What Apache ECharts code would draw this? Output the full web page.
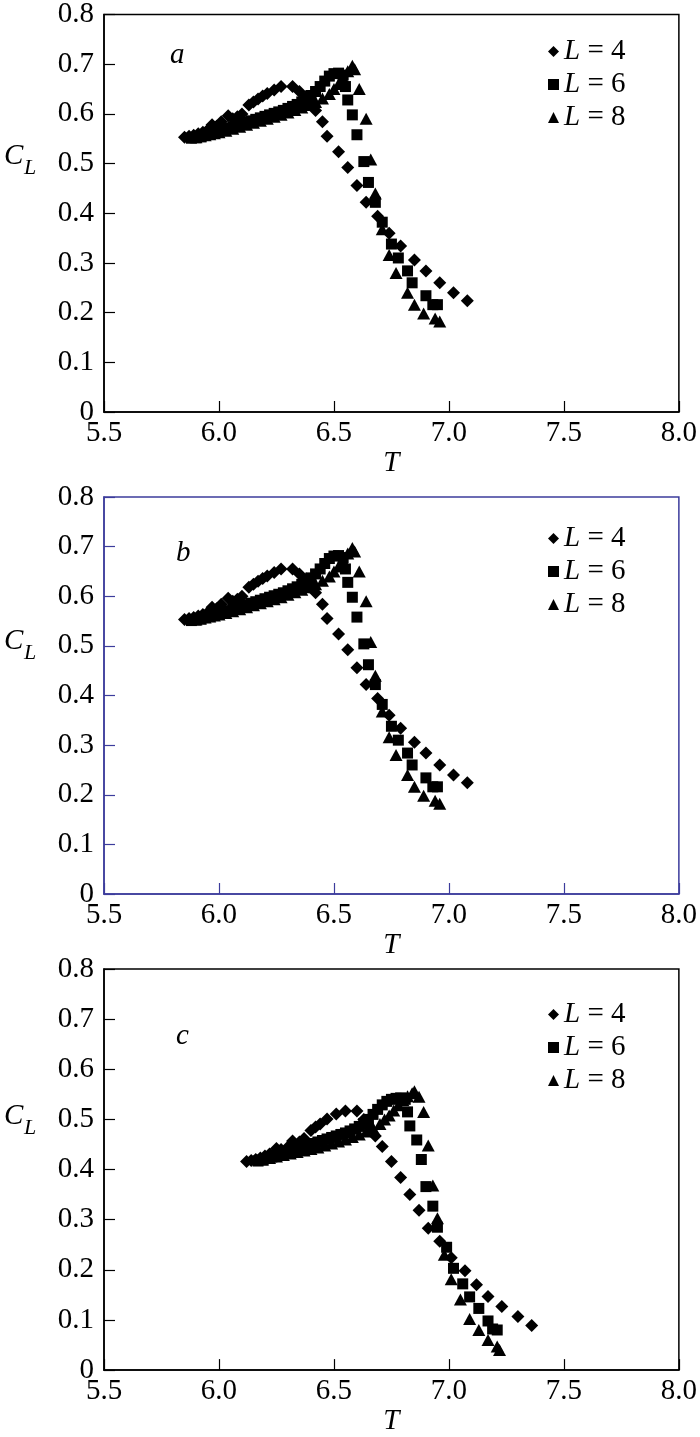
<!DOCTYPE html>
<html><head><meta charset="utf-8">
<script src="https://cdn.jsdelivr.net/npm/echarts@6/dist/echarts.min.js"></script>
<style>html,body{margin:0;padding:0;background:#fff}#c{width:700px;height:1437px}</style>
</head><body><div id="c"></div>
<script>
const seriesNames = ['L = 4', 'L = 6', 'L = 8'];
const panelLabels = ['a', 'b', 'c'];
const xTicks = [5.5, 6.0, 6.5, 7.0, 7.5, 8.0];
const yTicks = [0, 0.1, 0.2, 0.3, 0.4, 0.5, 0.6, 0.7, 0.8];

// Panels a and b (same data)
const abL4 = [[5.85,0.553],[5.87,0.555],[5.89,0.557],[5.91,0.560],[5.93,0.563],[5.95,0.567],[5.97,0.578],[5.99,0.575],[6.01,0.584],[6.04,0.596],[6.06,0.590],[6.08,0.594],[6.10,0.600],
  [6.13,0.618],[6.15,0.624],[6.17,0.630],[6.19,0.636],[6.21,0.641],[6.24,0.648],[6.27,0.655],[6.32,0.655],[6.35,0.645],[6.38,0.635],[6.40,0.620],[6.42,0.607],[6.45,0.584],[6.47,0.555],[6.52,0.524],[6.56,0.492],[6.60,0.456],[6.64,0.422],[6.69,0.394],[6.74,0.360],[6.79,0.334],[6.85,0.306],[6.90,0.284],[6.96,0.260],[7.02,0.240],[7.08,0.224]];
const abL6 = [[5.88,0.551],[5.90,0.552],[5.92,0.554],[5.94,0.557],[5.96,0.559],[5.98,0.562],[6.00,0.565],[6.02,0.568],[6.04,0.571],[6.06,0.574],[6.08,0.577],[6.10,0.580],[6.12,0.583],[6.14,0.586],[6.16,0.589],[6.18,0.592],[6.20,0.595],[6.22,0.598],[6.24,0.601],[6.26,0.604],[6.28,0.607],[6.30,0.611],[6.32,0.615],[6.34,0.619],[6.36,0.624],[6.38,0.630],[6.40,0.637],[6.42,0.645],[6.44,0.655],[6.46,0.666],[6.48,0.676],[6.50,0.681],[6.52,0.682],[6.54,0.678],[6.55,0.655],[6.56,0.628],[6.58,0.598],[6.60,0.558],[6.63,0.504],[6.65,0.462],[6.68,0.422],[6.71,0.382],[6.75,0.338],[6.78,0.310],[6.82,0.284],[6.84,0.260],[6.90,0.234],[6.93,0.216],[6.95,0.216]];
const abL8 = [[5.90,0.553],[5.92,0.555],[5.94,0.557],[5.96,0.559],[5.98,0.561],[6.00,0.563],[6.03,0.566],[6.06,0.570],[6.09,0.574],[6.12,0.578],[6.15,0.582],[6.18,0.586],[6.21,0.590],[6.24,0.594],[6.27,0.598],[6.30,0.603],[6.33,0.608],[6.36,0.613],[6.39,0.618],[6.42,0.624],[6.45,0.631],[6.48,0.640],[6.50,0.650],[6.52,0.660],[6.54,0.672],[6.56,0.686],[6.58,0.697],[6.59,0.690],[6.61,0.650],[6.64,0.590],[6.66,0.508],[6.68,0.440],[6.71,0.368],[6.74,0.316],[6.77,0.280],[6.82,0.240],[6.85,0.216],[6.89,0.198],[6.94,0.188],[6.96,0.182]];

// Panel c
const cL4 = [[6.12,0.416],[6.14,0.418],[6.16,0.420],[6.18,0.423],[6.20,0.427],[6.22,0.431],[6.25,0.442],[6.27,0.440],[6.30,0.445],[6.32,0.457],[6.35,0.455],[6.37,0.462],
  [6.40,0.478],[6.42,0.485],[6.44,0.491],[6.47,0.501],[6.51,0.511],[6.55,0.517],[6.60,0.517],[6.63,0.500],[6.65,0.485],[6.68,0.467],[6.71,0.446],[6.75,0.416],[6.79,0.384],[6.83,0.350],[6.87,0.319],[6.91,0.283],[6.96,0.257],[7.01,0.224],[7.07,0.198],[7.12,0.170],[7.17,0.147],[7.23,0.127],[7.30,0.107],[7.36,0.089]];
const cL6 = [[6.17,0.417],[6.19,0.419],[6.21,0.422],[6.23,0.425],[6.25,0.428],[6.27,0.431],[6.29,0.434],[6.31,0.437],[6.33,0.440],[6.35,0.443],[6.37,0.446],[6.39,0.449],[6.41,0.452],[6.43,0.455],[6.45,0.458],[6.47,0.461],[6.49,0.464],[6.51,0.467],[6.53,0.470],[6.55,0.473],[6.57,0.477],[6.59,0.481],[6.61,0.486],[6.63,0.492],[6.65,0.500],[6.67,0.510],[6.69,0.520],[6.71,0.529],[6.73,0.536],[6.75,0.540],[6.77,0.542],[6.79,0.543],[6.81,0.540],[6.82,0.515],[6.83,0.487],[6.86,0.459],[6.88,0.420],[6.90,0.366],[6.93,0.327],[6.95,0.285],[6.99,0.245],[7.02,0.203],[7.06,0.172],[7.09,0.146],[7.13,0.123],[7.17,0.098],[7.19,0.082],[7.21,0.080]];
const cL8 = [[6.19,0.420],[6.22,0.423],[6.25,0.426],[6.28,0.429],[6.31,0.432],[6.34,0.435],[6.37,0.438],[6.40,0.441],[6.43,0.444],[6.46,0.448],[6.49,0.452],[6.52,0.456],[6.55,0.460],[6.58,0.465],[6.61,0.470],[6.64,0.476],[6.67,0.483],[6.70,0.491],[6.72,0.500],[6.74,0.508],[6.76,0.518],[6.78,0.528],[6.80,0.538],[6.82,0.546],[6.84,0.552],[6.85,0.556],[6.87,0.545],[6.89,0.515],[6.91,0.448],[6.93,0.368],[6.95,0.303],[6.98,0.230],[7.01,0.181],[7.05,0.141],[7.09,0.102],[7.13,0.080],[7.17,0.060],[7.21,0.047],[7.22,0.040]];

const panelData = [[abL4, abL6, abL8], [abL4, abL6, abL8], [cL4, cL6, cL8]];

const FONT = 'Liberation Serif';
const frameColors = ['#000000', '#3c3c9c', '#000000'];
const grids = [
  {left: 104, top: 11, width: 575, height: 401},
  {left: 104, top: 497, width: 575, height: 397},
  {left: 104, top: 969, width: 575, height: 404}
];
const legendTops = [31, 518, 994];
const symbols = ['diamond', 'rect', 'triangle'];
const symSizes = [[13, 13], 11, [13, 12]];

const chart = echarts.init(document.getElementById('c'), null, {renderer: 'canvas'});
const option = {
  backgroundColor: '#fff',
  animation: false,
  grid: grids.map((g, i) => Object.assign({show: true, borderColor: frameColors[i], borderWidth: 1.5, backgroundColor: 'transparent'}, g)),
  xAxis: grids.map((g, i) => ({
    type: 'value', gridIndex: i, min: xTicks[0], max: xTicks[xTicks.length - 1], interval: 0.5,
    axisLine: {show: true, onZero: false, lineStyle: {color: frameColors[i], width: 1.5}},
    axisTick: {show: true, inside: true, length: 11, lineStyle: {color: frameColors[i], width: 1.2}},
    splitLine: {show: false},
    axisLabel: {color: '#000', fontFamily: FONT, fontSize: 29, margin: 7, formatter: v => v.toFixed(1)},
    name: 'T', nameLocation: 'middle', nameGap: 36,
    nameTextStyle: {color: '#000', fontFamily: FONT, fontSize: 29, fontStyle: 'italic'}
  })),
  yAxis: grids.map((g, i) => ({
    type: 'value', gridIndex: i, min: yTicks[0], max: yTicks[yTicks.length - 1], interval: 0.1,
    axisLine: {show: true, onZero: false, lineStyle: {color: frameColors[i], width: 1.5}},
    axisTick: {show: true, inside: true, length: 11, lineStyle: {color: frameColors[i], width: 1.2}},
    splitLine: {show: false},
    axisLabel: {color: '#000', fontFamily: FONT, fontSize: 29, margin: 10, formatter: v => (v === 0 ? '0' : v.toFixed(1))}
  })),
  legend: grids.map((g, i) => ({
    orient: 'vertical', left: 543, top: legendTops[i], itemGap: 2, itemWidth: 11, itemHeight: 11,
    selectedMode: false,
    data: seriesNames.map((n, k) => ({name: n, icon: symbols[k], itemStyle: {color: '#000'}})),
    formatter: name => '{i|L}' + name.slice(1),
    textStyle: {color: '#000', fontFamily: FONT, fontSize: 29, lineHeight: 31,
      rich: {i: {fontStyle: 'italic', fontFamily: FONT, fontSize: 29, color: '#000'}}}
  })),
  graphic: [],
  series: []
};

panelData.forEach((sets, i) => {
  sets.forEach((data, k) => {
    option.series.push({
      type: 'scatter', name: seriesNames[k], xAxisIndex: i, yAxisIndex: i,
      symbol: symbols[k], symbolSize: symSizes[k],
      itemStyle: {color: '#000', opacity: 1},
      data: data, z: 3
    });
  });
});

const panelLabelPos = [[177, 57], [183, 555], [183, 1038]];
const cLabelY = [158, 643, 1118];
grids.forEach((g, i) => {
  option.graphic.push({type: 'text', left: panelLabelPos[i][0] - 7, top: panelLabelPos[i][1] - 16,
    style: {text: panelLabels[i], font: 'italic 29px "Liberation Serif"', fill: '#000'}});
  option.graphic.push({type: 'text', left: 4, top: cLabelY[i] - 16,
    style: {text: 'C', font: 'italic 29px "Liberation Serif"', fill: '#000'}});
  option.graphic.push({type: 'text', left: 24, top: cLabelY[i] - 1,
    style: {text: 'L', font: 'italic 22px "Liberation Serif"', fill: '#000'}});
});

chart.setOption(option);
</script>
</body></html>
